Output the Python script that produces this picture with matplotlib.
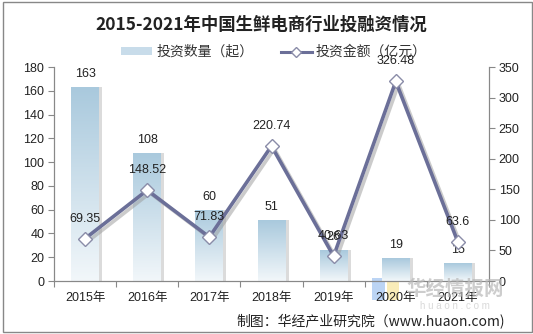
import numpy as np
import matplotlib
matplotlib.use("Agg")
import matplotlib.pyplot as plt
from matplotlib.patches import Rectangle
from matplotlib.lines import Line2D
import matplotlib.patheffects as pe
from matplotlib.colors import LinearSegmentedColormap

plt.rcParams['font.family'] = ['Liberation Sans', 'Noto Sans CJK SC', 'DejaVu Sans']

years = ["2015年", "2016年", "2017年", "2018年", "2019年", "2020年", "2021年"]
deal_count = [163, 108, 60, 51, 26, 19, 15]
deal_amount = [69.35, 148.52, 71.83, 220.74, 40.63, 326.48, 63.6]
left_ticks = [0, 20, 40, 60, 80, 100, 120, 140, 160, 180]
right_ticks = [0, 50, 100, 150, 200, 250, 300, 350]

W, H = 533, 334
fig = plt.figure(figsize=(W / 100, H / 100), dpi=100)
ax = fig.add_axes([54 / W, 1 - 281 / H, 435 / W, 214 / H])
ax2 = ax.twinx()

x = np.arange(len(years))
grad = LinearSegmentedColormap.from_list("bargrad", ["#f2f7fa", "#a9c9dd"])
bw = 0.45

# bar shadows
for xi, v in zip(x, deal_count):
    ax.add_patch(Rectangle((xi - bw / 2 + 0.05, 0), bw, v, facecolor="#9a9a9a",
                           alpha=0.35, edgecolor="none", zorder=1))
bars = ax.bar(x, deal_count, width=bw, color="none", edgecolor="none", zorder=2)
gimg = np.linspace(0, 1, 256).reshape(-1, 1)
for b in bars:
    x0, y0 = b.get_x(), b.get_y()
    im = ax.imshow(gimg, cmap=grad, origin="lower", aspect="auto",
                   extent=[x0, x0 + b.get_width(), y0, y0 + b.get_height()], zorder=2)
    im.set_clip_path(b)

for xi, v in zip(x, deal_count):
    ax.annotate(f"{v}", (xi, v), xytext=(0, 13), textcoords="offset pixels",
                ha="center", va="center", fontsize=9, color="#222222", zorder=5)

ax.set_xlim(-0.5, len(years) - 0.5)
ax.set_ylim(0, 180)
ax.set_yticks(left_ticks)
ax.set_xticks(np.arange(len(years) + 1) - 0.5, minor=False)
ax.set_xticklabels([])
ax.set_xticks(x, minor=True)
ax.set_xticklabels(years, minor=True, fontsize=9, color="#222222")
ax.tick_params(axis="x", which="minor", length=0, pad=8)
ax.tick_params(axis="x", which="major", length=4, color="#888888", direction="out")
ax.tick_params(axis="y", length=4, color="#888888", labelsize=9, labelcolor="#222222", pad=3)

ax2.set_ylim(0, 350)
ax2.set_yticks(right_ticks)
ax2.tick_params(axis="y", length=4, color="#888888", labelsize=9, labelcolor="#222222", pad=3)

for a in (ax, ax2):
    a.spines["top"].set_visible(False)
    for s in ("left", "right", "bottom"):
        a.spines[s].set_color("#888888")
        a.spines[s].set_linewidth(0.8)
    a.set_facecolor("none")

line_color = "#6b6f98"
ax2.plot(x, deal_amount, color=line_color, lw=2.6, zorder=3,
         path_effects=[pe.SimpleLineShadow(offset=(2, -2), shadow_color="#999999", alpha=0.5), pe.Normal()])
ax2.plot(x, deal_amount, linestyle="none", marker="D", markersize=7,
         markerfacecolor="white", markeredgecolor="#8a8ca8", markeredgewidth=1, zorder=4)
for xi, v in zip(x, deal_amount):
    ax2.annotate(f"{v:g}", (xi, v), xytext=(0, 20), textcoords="offset pixels",
                 ha="center", va="center", fontsize=9, color="#222222", zorder=5)

fig.text(261 / W, 1 - 25 / H, "2015-2021年中国生鲜电商行业投融资情况", ha="center", va="center",
         fontsize=12.5, fontweight="bold", color="#222222",
         family=["Noto Sans CJK SC", "DejaVu Sans"])

# legend
legend_handles = [
    Rectangle((0, 0), 1, 1, facecolor="#c8dcea", edgecolor="none"),
    Line2D([0], [0], color=line_color, lw=2.2, marker="D", markersize=5,
           markerfacecolor="white", markeredgecolor="#8a8ca8"),
]
leg = fig.legend(legend_handles, ["投资数量（起）", "投资金额（亿元）"], loc="center",
                 bbox_to_anchor=(274 / W, 1 - 52 / H), ncol=2, frameon=False,
                 handlelength=2.2, handleheight=0.5, columnspacing=2.0,
                 handletextpad=0.3, prop={"family": ["Noto Sans CJK SC", "DejaVu Sans"], "size": 10})
for t in leg.get_texts():
    t.set_color("#333333")

# watermark
fig.add_artist(Rectangle((372 / W, 1 - 300 / H), 13 / W, 22 / H, facecolor="#8fb8ee",
                         edgecolor="none", alpha=0.6, transform=fig.transFigure, zorder=0))
fig.add_artist(Rectangle((387 / W, 1 - 300 / H), 12 / W, 22 / H, facecolor="#f5e08a",
                         edgecolor="none", alpha=0.6, transform=fig.transFigure, zorder=0))
fig.text(455 / W, 1 - 289 / H, "华经情报网", ha="center", va="center", fontsize=14,
         fontweight="bold", color="#b8b8b8", alpha=0.7, family=["Noto Sans CJK SC", "DejaVu Sans"])
fig.text(455 / W, 1 - 306 / H, "h u a o n . c o m", ha="center", va="center", fontsize=7,
         color="#d0d0d0", alpha=0.8)

fig.text(505 / W, 1 - 322 / H, "制图：华经产业研究院（www.huaon.com)", ha="right", va="center",
         fontsize=10, color="#222222", family=["Noto Sans CJK SC", "DejaVu Sans"])

fig.add_artist(Rectangle((2.5 / W, 2.5 / H), 529 / W, 330 / H, fill=False,
                         edgecolor="#888888", linewidth=1, transform=fig.transFigure))

fig.savefig("out.png", dpi=100)
